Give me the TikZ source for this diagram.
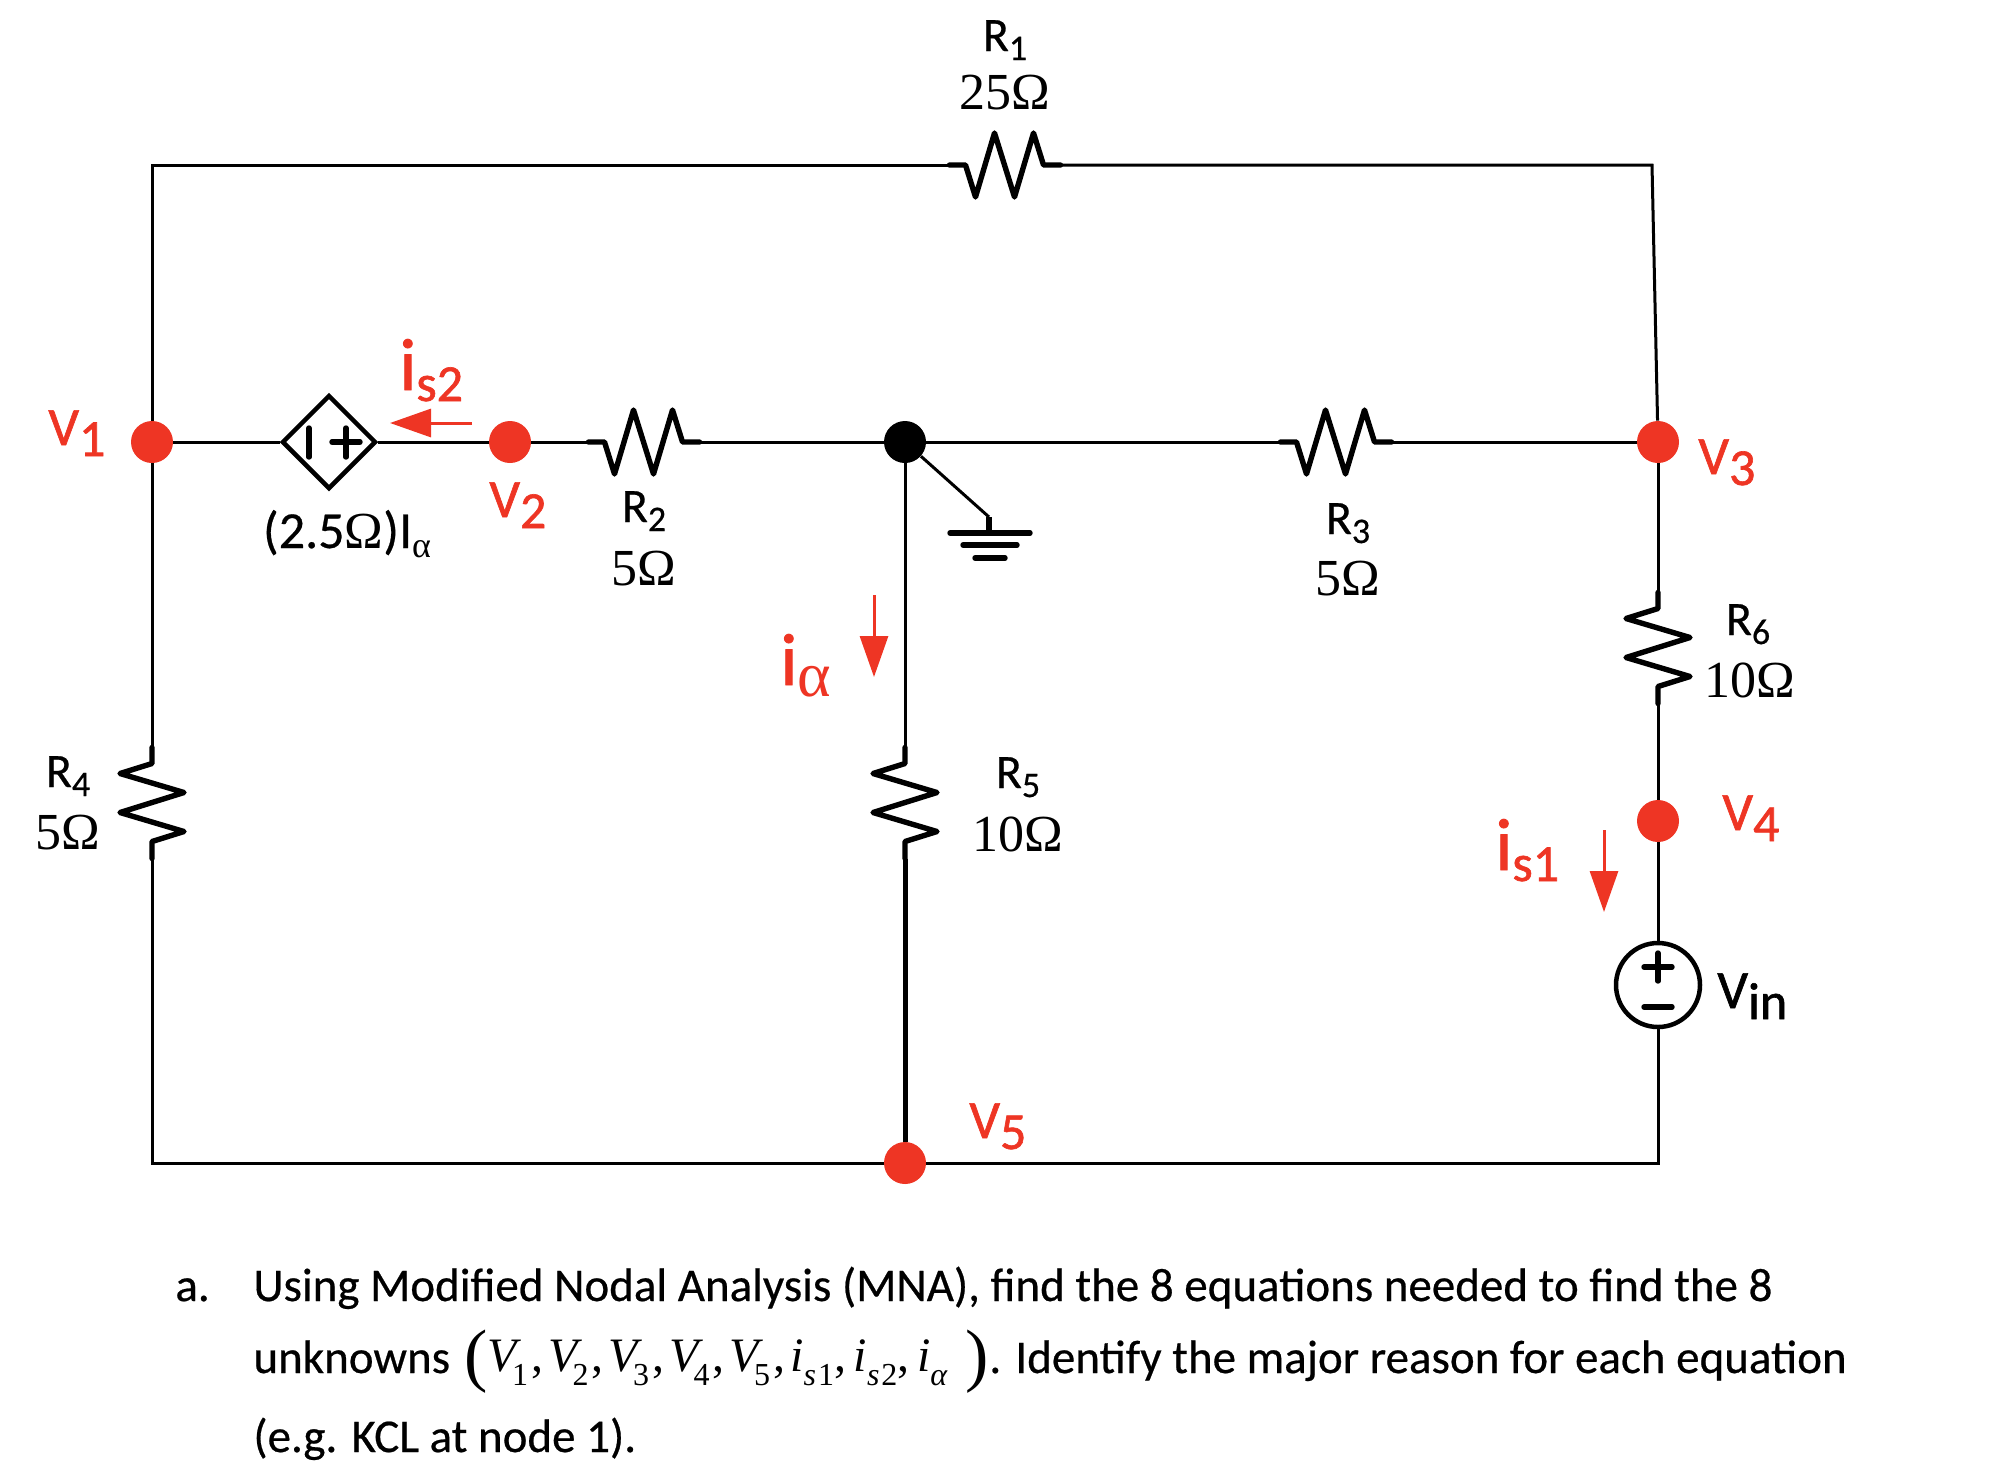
\documentclass[tikz,border=0pt]{standalone}
\usepackage{fontspec}
\setmainfont{Carlito}[RawFeature={embolden=0.5}]
\newfontfamily\symfont{Liberation Serif}
\newfontfamily\redfont{Carlito}[RawFeature={embolden=1.2}]
\usetikzlibrary{arrows.meta,shapes.geometric}
\definecolor{nodered}{HTML}{EE3524}
\newcommand{\fs}[1]{\fontsize{#1pt}{#1pt}\selectfont}
\newcommand{\ohm}{{\symfont Ω}}
\newcommand{\alp}{{\symfont α}}
\newcommand{\sub}[1]{\raisebox{-5.5pt}{\fs{26}#1}}
\newcommand{\rsub}[1]{\raisebox{-4.5pt}{\fs{18}#1}}
\newcommand{\msub}[1]{\raisebox{-7pt}{\fs{16}\symfont #1}}
\newcommand{\mcomma}{{\symfont\fs{24},}}
\newcommand{\mv}[1]{{\symfont\itshape V}\kern-2.5pt\msub{#1}\kern1.5pt\mcomma\kern2.6pt}
\newcommand{\mi}[2]{{\symfont\itshape i}\msub{\itshape #1\kern1pt\upshape #2}\mcomma\kern3.8pt}
\tikzset{
  wire/.style={line width=1.5pt},
  thickwire/.style={line width=2.5pt},
  sym/.style={line width=2.7pt,line cap=round,line join=round},
  dot/.style={circle,fill=nodered,minimum size=21pt,inner sep=0pt},
  lbl/.style={inner sep=0pt,anchor=base,font=\fs{24}},
  val/.style={inner sep=0pt,anchor=base,font=\fs{26}\symfont},
  redlbl/.style={inner sep=0pt,anchor=base west,text=nodered,font=\fs{27}\redfont},
  txt/.style={inner sep=0pt,anchor=base west,font=\fs{23.5}},
  cur/.style={line width=1.5pt,draw=nodered,-{Triangle[length=20.5pt,width=14pt,fill=nodered]}},
  res/.pic={
    \draw[sym] (-55.5,0) coordinate (-a) -- (-39.5,0) -- (-29.5,32) -- (-10.5,-32) -- (9.5,32) -- (28.5,-32) -- (38.5,0) -- (55.5,0) coordinate (-b);
  }
}

\begin{document}
\begin{tikzpicture}[x=0.5pt,y=-0.5pt]
  \useasboundingbox (0,0) rectangle (2008,1480);

  % corners of the loop
  \coordinate (tl) at (152,165);
  \coordinate (tr) at (1652,165);
  \coordinate (bl) at (152,1163);
  \coordinate (br) at (1658,1163);
  \coordinate (gnd) at (989,517);

  % resistors
  \pic (r1) at (1005,165) {res};
  \pic (r2) at (644,442) {res};
  \pic (r3) at (1336,442) {res};
  \pic[rotate=-90] (r4) at (152,803) {res};
  \pic[rotate=-90] (r5) at (905,803) {res};
  \pic[rotate=-90] (r6) at (1658,648) {res};

  % sources
  \node[diamond,draw,line width=2.25pt,minimum size=47pt,inner sep=0pt] (dep) at (329,442) {};
  \draw[sym] (309,428) -- (309,457);
  \draw[sym] (332,442) -- (360,442);
  \draw[sym] (346,428) -- (346,457);
  \node[circle,draw,line width=2.25pt,minimum size=42pt,inner sep=0pt] (vin) at (1658,985) {};
  \draw[sym] (1644,967) -- (1672,967);
  \draw[sym] (1658,953) -- (1658,981);
  \draw[sym] (1644,1007) -- (1672,1007);

  % nodes
  \node[dot] (v1) at (152,442) {};
  \node[dot] (v2) at (510,442) {};
  \node[dot,fill=black] (blk) at (905,442) {};
  \node[dot] (v3) at (1658,442) {};
  \node[dot] (v4) at (1658,821) {};
  \node[dot] (v5) at (905,1163) {};

  % wires
  \draw[wire] (v1) -- (tl) -- (r1-a);
  \draw[wire] (r1-b) -- (tr) -- (v3);
  \draw[wire] (v1) -- (dep);
  \draw[wire] (dep) -- (v2);
  \draw[wire] (v2) -- (r2-a);
  \draw[wire] (r2-b) -- (blk);
  \draw[wire] (blk) -- (r3-a);
  \draw[wire] (r3-b) -- (v3);
  \draw[wire] (v1) -- (r4-a);
  \draw[wire] (r4-b) -- (bl) -- (v5);
  \draw[wire] (v5) -- (br) -- (vin);
  \draw[wire] (blk) -- (r5-a);
  \draw[thickwire] (r5-b) -- (v5);
  \draw[wire] (v3) -- (r6-a);
  \draw[wire] (r6-b) -- (v4);
  \draw[wire] (v4) -- (vin);

  % ground
  \draw[wire] (blk) -- (gnd);
  \draw[sym,line cap=butt] (gnd) -- (989,533);
  \draw[sym] (950,533) -- (1030,533);
  \draw[sym] (963,545) -- (1017,545);
  \draw[sym] (975,558) -- (1005,558);

  % currents
  \draw[cur] (472,423) -- (390,423);
  \draw[cur] (874,595) -- (874,677);
  \draw[cur] (1604,830) -- (1604,912);

  % values
  \node[lbl] (r1n) at (1005,51) {R\rsub{1}};
  \node[val] (r1v) at (1005,109) {25Ω};
  \node[lbl] (r2n) at (644,522) {R\rsub{2}};
  \node[val] (r2v) at (644,585) {5Ω};
  \node[lbl] (r3n) at (1348,534) {R\rsub{3}};
  \node[val] (r3v) at (1348,595) {5Ω};
  \node[lbl] (r4n) at (68,787) {R\rsub{4}};
  \node[val] (r4v) at (68,849) {5Ω};
  \node[lbl] (r5n) at (1018,788) {R\rsub{5}};
  \node[val] (r5v) at (1018,851) {10Ω};
  \node[lbl] (r6n) at (1748,635) {R\rsub{6}};
  \node[val] (r6v) at (1750,697) {10Ω};
  \node[lbl,font=\fs{26}] (depv) at (347,548) {(2.5\ohm)I\rsub{\alp}};

  % voltages and currents
  \node[redlbl] (l1) at (48,445) {V\sub{1}};
  \node[redlbl] (l2) at (489,517) {V\sub{2}};
  \node[redlbl] (l3) at (1698,474) {V\sub{3}};
  \node[redlbl] (l4) at (1722,830) {V\sub{4}};
  \node[redlbl] (l5) at (969,1138) {V\sub{5}};
  \node[redlbl,font=\fs{37}\redfont] (ls2) at (399,390) {i\sub{s2}};
  \node[redlbl,font=\fs{37}\redfont] (la) at (780,685) {i\raisebox{-5.5pt}{\fs{32}\alp}};
  \node[redlbl,font=\fs{37}\redfont] (ls1) at (1495,870) {i\sub{s1}};
  \node[redlbl,text=black] (lin) at (1717,1008) {V\sub{in}};

  % question
  \node[txt] (item) at (175,1301) {a.};
  \node[txt] (line1) at (253,1301) {Using Modified Nodal Analysis (MNA), find the 8 equations needed to find the 8};
  \node[txt] (line2) at (253,1373) {unknowns};
  \node[txt,font=\fs{24}] (unk) at (464,1371) {{\symfont\fs{35}\raisebox{-3.5pt}{(}}\mv{1}\mv{2}\mv{3}\mv{4}\mv{5}\mi{s}{1}\mi{s}{2}{\symfont\itshape i}\msub{\itshape α}\kern9pt{\symfont\fs{35}\raisebox{-3.5pt}{)}}};
  \node[txt] (line2b) at (989,1373) {. Identify the major reason for each equation};
  \node[txt] (line3) at (253,1452) {(e.g. KCL at node 1).};
\end{tikzpicture}
\end{document}
